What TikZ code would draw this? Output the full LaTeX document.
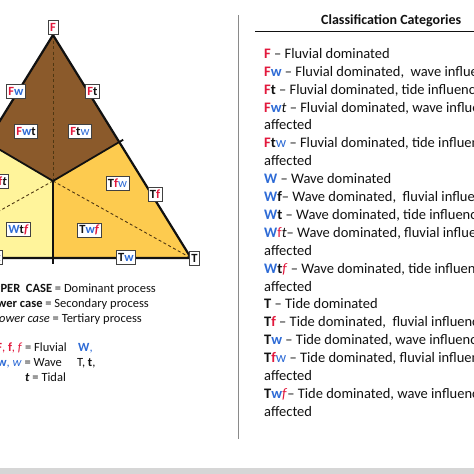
\documentclass[tikz,border=0pt]{standalone}
\usepackage{fontspec}
\setmainfont{Carlito}
\usetikzlibrary{calc}
\definecolor{ink}{HTML}{111111}
\definecolor{fred}{HTML}{E2183C}
\definecolor{wblue}{HTML}{2E6BD6}
\definecolor{fluvfill}{HTML}{8B5A2B}
\definecolor{tidefill}{HTML}{FDCB4F}
\definecolor{wavefill}{HTML}{FFF49B}
\definecolor{dashbrown}{HTML}{4E3712}
\definecolor{rulegray}{HTML}{8A8A8A}
\definecolor{strip}{HTML}{D6D6D6}
\newcommand{\flu}[1]{\textcolor{fred}{#1}}
\newcommand{\wav}[1]{\textcolor{wblue}{#1}}
\tikzset{
  every node/.style={text=ink},
  edge/.style={draw=ink, line width=2.2pt, line join=miter},
  split/.style={draw=ink, line width=1.8pt},
  guide/.style={draw=dashbrown, line width=0.9pt, dash pattern=on 3pt off 2.5pt},
  lbl/.style={draw=ink!80, fill=white, line width=0.6pt, inner xsep=2pt, inner ysep=1.5pt, minimum height=14pt, font=\fontsize{12.5}{13}\selectfont\bfseries},
  key/.style={font=\fontsize{12.5}{15}\selectfont, anchor=base east, inner sep=0pt},
  cat/.style={font=\fontsize{14.5}{17.9}\selectfont, anchor=base west, inner sep=0pt},
}
\begin{document}
\begin{tikzpicture}[x=1pt, y=-1pt]
  \useasboundingbox (0,0) rectangle (474,474);
  \clip (0,0) rectangle (474,474);
  \fill[white] (0,0) rectangle (474,474);

  % ---- ternary triangle ----------------------------------------------
  \coordinate (F) at (53,35);
  \coordinate (T) at (191,258);
  \coordinate (W) at (-85,258);
  \coordinate (ctr) at (53,181);
  \coordinate (mFT) at ($(F)!0.48!(T)$);
  \coordinate (mFW) at ($(F)!0.48!(W)$);
  \coordinate (mWT) at (53,258);

  \fill[fluvfill] (F) -- (mFT) -- (ctr) -- (mFW) -- cycle;
  \fill[tidefill] (mFT) -- (T) -- (mWT) -- (ctr) -- cycle;
  \fill[wavefill] (mFW) -- (ctr) -- (mWT) -- (W) -- cycle;

  \draw[guide] (F) -- (ctr);
  \draw[guide] (ctr) -- (T);
  \draw[guide] (ctr) -- (W);

  \draw[split] (ctr) -- ($(ctr)!1.06!(mFT)$);
  \draw[split] (ctr) -- ($(ctr)!1.06!(mFW)$);
  \draw[split] (ctr) -- ($(mWT)+(0,6)$);
  \draw[edge] (F) -- (T) -- (W) -- cycle;

  % class labels
  \node[lbl] (lF) at (53,27.5) {\flu{F}};
  \node[lbl] (lFw) at (16,91.5) {\flu{F}\wav{w}};
  \node[lbl] (lFt) at (92.5,91.5) {\flu{F}t};
  \node[lbl] (lFwt) at (26,131) {\flu{F}\wav{w}t};
  \node[lbl] (lFtw) at (80,131) {\flu{F}t\wav{\mdseries w}};
  \node[lbl, anchor=east] (lWft) at (9,181) {\wav{W}\flu{f}\textit{t}};
  \node[lbl] (lTfw) at (117.5,183) {T\flu{f}\wav{\mdseries w}};
  \node[lbl] (lTf) at (155,194) {T\flu{f}};
  \node[lbl] (lWtf) at (18.5,229.5) {\wav{W}t\flu{\textit{f}}};
  \node[lbl] (lTwf) at (89.5,230) {T\wav{w}\flu{\textit{f}}};
  \node[lbl] (lTw) at (126,257.5) {T\wav{w}};
  \node[lbl] (lT) at (194.5,258) {T};
  \node[lbl, anchor=east] (lWt) at (3,257) {\wav{W}t};

  % ---- key -------------------------------------------------------------
  \node[key] (kUp) at (156,292.5) {\textbf{UPPER\ \ CASE} = Dominant process};
  \node[key] (kLo) at (149,307.5) {\textbf{lower case} = Secondary process};
  \node[key] (kTe) at (142,322.5) {\textit{lower case} = Tertiary process};
  \node[key] (kF) at (67,351) {\flu{\textbf{F}, \textbf{f}, \textit{f}} = Fluvial};
  \node[key, anchor=base west] (kW) at (78,351) {\wav{\textbf{W},}};
  \node[key] (kw) at (62,366) {\wav{\textbf{w}, \textit{w}} = Wave};
  \node[key, anchor=base west] (kT) at (77,366) {T, \textbf{t},};
  \node[key, anchor=base west] (kt) at (25,381.5) {\textbf{\textit{t}} = Tidal};

  % ---- categories panel --------------------------------------------------
  \draw[rulegray, line width=1.4pt] (238.5,15) -- (238.5,439);
  \node[cat, font=\fontsize{14}{17}\selectfont\bfseries] (head) at (321,24) {Classification Categories};
  \draw[ink, line width=1.4pt] (255,31.5) -- (474,31.5);

  \node[cat] (c1) at (264,58.3) {\flu{\textbf{F}} -- Fluvial dominated};
  \node[cat] (c2) at (264,76.2) {\flu{\textbf{F}}\wav{\textbf{w}} -- Fluvial dominated,\ \ wave influenced};
  \node[cat] (c3) at (264,94.1) {\flu{\textbf{F}}\textbf{t} -- Fluvial dominated, tide influenced};
  \node[cat] (c4) at (264,112.0) {\flu{\textbf{F}}\wav{\textbf{w}}\textit{t} -- Fluvial dominated, wave influenced, tide};
  \node[cat] (c5) at (264,129.9) {affected};
  \node[cat] (c6) at (264,147.8) {\flu{\textbf{F}}\textbf{t}\wav{w} -- Fluvial dominated, tide influenced, wave};
  \node[cat] (c7) at (264,165.7) {affected};
  \node[cat] (c8) at (264,183.6) {\wav{\textbf{W}} -- Wave dominated};
  \node[cat] (c9) at (264,201.5) {\wav{\textbf{W}}\textbf{f}-- Wave dominated,\ \ fluvial influenced};
  \node[cat] (c10) at (264,219.4) {\wav{\textbf{W}}\textbf{t} -- Wave dominated, tide influenced};
  \node[cat] (c11) at (264,237.3) {\wav{\textbf{W}}\flu{f}\textit{t}-- Wave dominated, fluvial influenced, tide};
  \node[cat] (c12) at (264,255.2) {affected};
  \node[cat] (c13) at (264,273.1) {\wav{\textbf{W}}\textbf{t}\flu{\textit{f}} -- Wave dominated, tide influenced, fluvial};
  \node[cat] (c14) at (264,291.0) {affected};
  \node[cat] (c15) at (264,308.9) {\textbf{T} -- Tide dominated};
  \node[cat] (c16) at (264,326.8) {\textbf{T}\flu{\textbf{f}} -- Tide dominated,\ \ fluvial influenced};
  \node[cat] (c17) at (264,344.7) {\textbf{T}\wav{\textbf{w}} -- Tide dominated, wave influenced};
  \node[cat] (c18) at (264,362.6) {\textbf{T}\flu{\textbf{f}}\wav{w} -- Tide dominated, fluvial influenced, wave};
  \node[cat] (c19) at (264,380.5) {affected};
  \node[cat] (c20) at (264,398.4) {\textbf{T}\wav{\textbf{w}}\flu{\textit{f}}-- Tide dominated, wave influenced, fluvial};
  \node[cat] (c21) at (264,416.3) {affected};

  \fill[strip] (0,467.5) rectangle (474,474);
\end{tikzpicture}
\end{document}
